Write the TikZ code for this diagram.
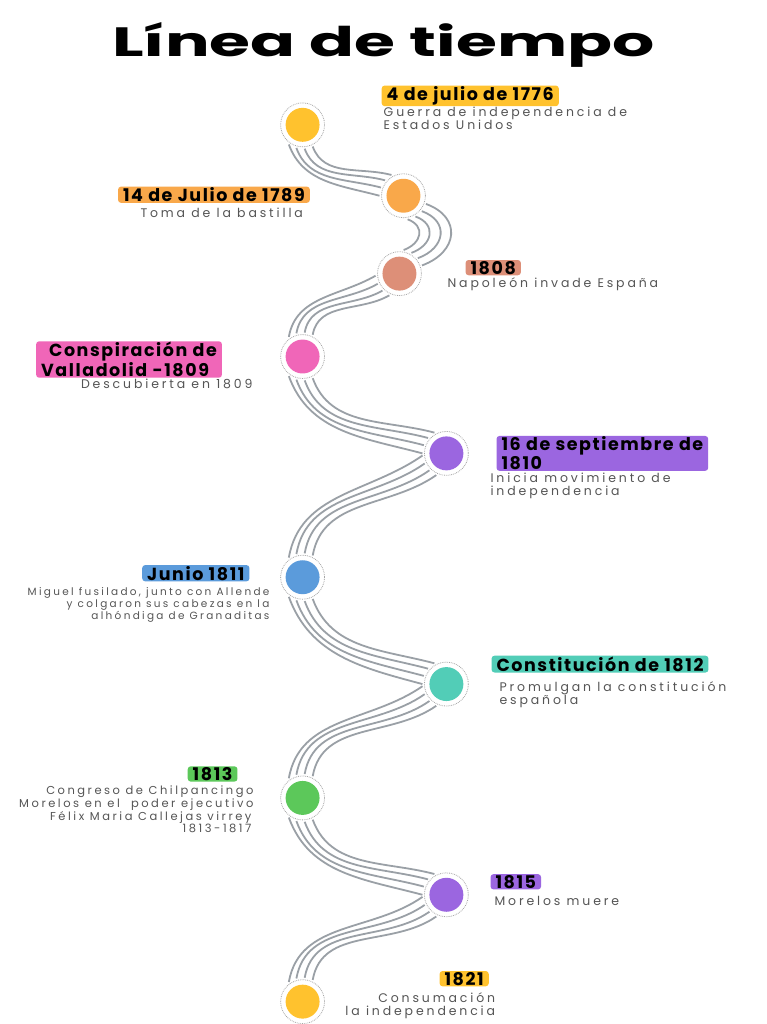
\documentclass[tikz,border=0pt]{standalone}
\usepackage{fontspec}
\setmainfont{Poppins}
\newfontfamily\tagfamily{Poppins}[LetterSpace=9]
\newfontfamily\descfamily{Poppins}[LetterSpace=23]
\newfontfamily\smalldescfamily{Poppins}[LetterSpace=22]
\usetikzlibrary{positioning}
\definecolor{cyel}{HTML}{FFC22E}
\definecolor{cora}{HTML}{F9A84A}
\definecolor{csal}{HTML}{DD8F78}
\definecolor{cpink}{HTML}{F066B8}
\definecolor{cpurp}{HTML}{9B66E0}
\definecolor{cblue}{HTML}{5B9BDB}
\definecolor{cteal}{HTML}{52CDB7}
\definecolor{cgreen}{HTML}{5CC85A}
\definecolor{wavegray}{HTML}{9AA0A6}
\definecolor{descgray}{HTML}{555555}
\tikzset{
  dot/.style={circle, fill=#1, minimum size=34pt, inner sep=0pt, outer sep=7pt},
  ring/.style={draw=gray!70, densely dotted, line width=0.8pt},
  wave/.style={draw=wavegray, line width=1.8pt},
  tag/.style={fill=#1, rounded corners=3pt, text=black, inner xsep=5pt, inner ysep=1pt,
              font=\tagfamily\bfseries\fontsize{17.5}{16}\selectfont, align=left},
  desc/.style={text=descgray, inner sep=0pt, font=\descfamily\fontsize{12.5}{13}\selectfont},
  smalldesc/.style={desc, font=\smalldescfamily\fontsize{#1}{10.3}\selectfont}
}
\newcommand{\bundle}[6]{\foreach \k in {0,...,3}{
    \pgfmathsetmacro{\sa}{#3+#5*\k}\pgfmathsetmacro{\ea}{#4-#5*\k}
    \draw[wave] (#1.\sa) to[#6] (#2.\ea);}}
\begin{document}
\begin{tikzpicture}[x=1pt,y=-1pt]
\fill[white] (0,0) rectangle (768,1024);

\node[font=\bfseries\fontsize{41}{41}\selectfont] (title) at (384,45) {\scalebox{1.62}[1]{Línea de tiempo}};

\foreach \n/\x/\y/\c in {c1/303/125/cyel, c2/404/196/cora, c3/400/274/csal, c4/303/357/cpink,
    c5/447/454/cpurp, c6/303/578/cblue, c7/447/685/cteal, c8/303/799/cgreen,
    c9/447/896/cpurp, c10/303/1003/cyel}{
  \draw[ring] (\x,\y) circle (22);
  \node[dot=\c] (\n) at (\x,\y) {};
}

\bundle{c1}{c2}{-125}{180}{20}{out=-70,in=165}
\bundle{c2}{c3}{-80}{80}{20}{out=-20,in=20,looseness=1.6}
\bundle{c3}{c4}{185}{125}{20}{out=210,in=80}
\bundle{c4}{c5}{-125}{180}{20}{out=-70,in=165}
\bundle{c5}{c6}{185}{125}{20}{out=215,in=80}
\bundle{c6}{c7}{-125}{180}{20}{out=-70,in=165}
\bundle{c7}{c8}{185}{125}{20}{out=215,in=80}
\bundle{c8}{c9}{-125}{180}{20}{out=-70,in=165}
\bundle{c9}{c10}{185}{125}{20}{out=215,in=80}

\node[tag=cyel, anchor=west] (t1) at (382,96) {4 de julio de 1776};
\node[desc, anchor=north west, align=left] (d1) at (384,107) {Guerra de independencia de\\Estados Unidos};

\node[tag=cora, anchor=west] (t2) at (118,195) {14 de Julio de 1789};
\node[desc, anchor=north] (d2) at (222,208) {Toma de la bastilla};

\node[tag=csal, anchor=west] (t3) at (466,268) {1808};
\node[desc, anchor=north west] (d3) at (448,278) {Napoleón invade España};

\node[tag=cpink, anchor=west] (t4) at (36,360) {\hspace*{8pt}Conspiración de\\Valladolid -1809};
\node[desc, anchor=north east] (d4) at (253,379) {Descubierta en 1809};

\node[tag=cpurp, anchor=west] (t5) at (497,454) {16 de septiembre de\\1810};
\node[desc, anchor=north west, align=left] (d5) at (491,473) {Inicia movimiento de\\independencia};

\node[tag=cblue, anchor=east] (t6) at (250,574) {Junio 1811};
\node[smalldesc=10.5, anchor=north east, align=right] (d6) at (270,588)
  {Miguel fusilado, junto con Allende\\y colgaron sus cabezas en la\\alhóndiga de Granaditas};

\node[tag=cteal, anchor=west] (t7) at (492,665) {Constitución de 1812};
\node[desc, anchor=north west, align=left] (d7) at (500,682) {Promulgan la constitución\\española};

\node[tag=cgreen, anchor=east] (t8) at (238,775) {1813};
\node[smalldesc=11.5, anchor=north east, align=right] (d8) at (254,787)
  {Congreso de Chilpancingo\\Morelos en el\ \ poder ejecutivo};
\node[smalldesc=11.5, anchor=north east, align=right] (d8b) at (252,812)
  {Félix Maria Callejas virrey\\1813-1817};

\node[tag=cpurp, anchor=west] (t9) at (491,883) {1815};
\node[desc, anchor=north west] (d9) at (495,897) {Morelos muere};

\node[tag=cyel, anchor=west] (t10) at (440,980) {1821};
\node[desc, anchor=north east, align=right] (d10) at (496,994) {Consumación\\la independencia};
\end{tikzpicture}
\end{document}
